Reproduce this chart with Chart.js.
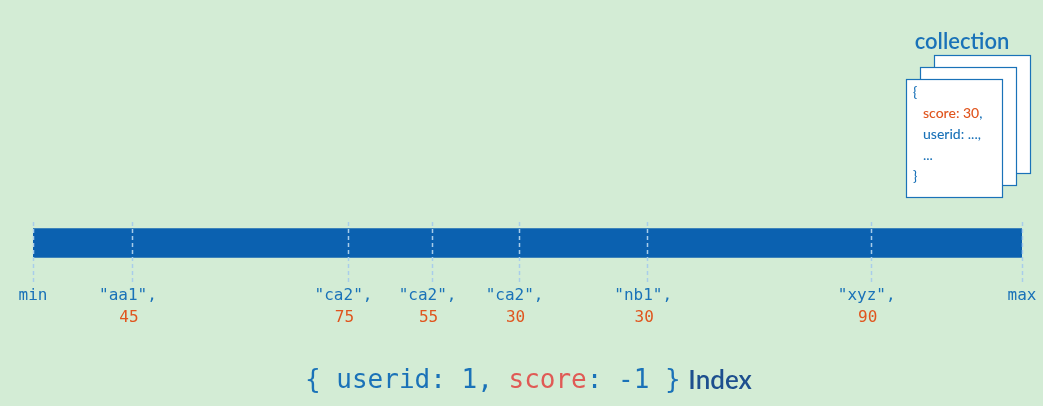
<!DOCTYPE html>
<html>
<head>
<meta charset="utf-8">
<script src="https://cdn.jsdelivr.net/npm/chart.js@4"></script>
<style>
  html, body { margin: 0; padding: 0; background: #d3ecd5; }
  #wrap { width: 1043px; height: 406px; position: relative; }
</style>
</head>
<body>
<div id="wrap"><canvas id="c"></canvas></div>
<script>
// index entries along the key range (0 = min, 1 = max)
const keyNames = ['min', '"aa1",', '"ca2",', '"ca2",', '"ca2",', '"nb1",', '"xyz",', 'max'];
const keyScores = ['', '45', '75', '55', '30', '30', '90', ''];
const keyPositions = [0, 0.100, 0.318, 0.403, 0.491, 0.621, 0.847, 1];
const docLines = ['{', 'score: 30,', 'userid: ...,', '...', '}'];

const BLUE = '#0b61b0';
const TEXT_BLUE = '#1a72b8';
const ORANGE = '#e0551e';

// Draws the dashed key markers, their labels, the caption and the collection box
const diagramPlugin = {
  id: 'indexDiagram',
  afterDatasetsDraw(chart) {
    const { ctx } = chart;
    const x = chart.scales.x;
    const y = chart.scales.y;
    const cy = y.getPixelForValue(0);
    ctx.save();

    // dashed markers
    ctx.strokeStyle = '#a9cdea';
    ctx.lineWidth = 1.5;
    ctx.setLineDash([4, 3]);
    keyPositions.forEach(p => {
      const px = Math.round(x.getPixelForValue(p)) + 0.5;
      ctx.beginPath();
      ctx.moveTo(px, cy - 21);
      ctx.lineTo(px, cy + 42);
      ctx.stroke();
    });
    ctx.setLineDash([]);

    // key labels
    ctx.textAlign = 'center';
    ctx.textBaseline = 'middle';
    keyPositions.forEach((p, i) => {
      const px = x.getPixelForValue(p);
      const shift = (i === 0 || i === keyPositions.length - 1) ? 0 : -4;
      ctx.font = '16px "DejaVu Sans Mono"';
      ctx.fillStyle = TEXT_BLUE;
      ctx.fillText(keyNames[i], px + shift, cy + 53);
      ctx.fillStyle = ORANGE;
      ctx.fillText(keyScores[i], px - 3, cy + 75);
    });

    // caption
    ctx.textAlign = 'left';
    ctx.font = '26px "DejaVu Sans Mono"';
    const parts = [['{ ', TEXT_BLUE], ['userid', TEXT_BLUE], [': 1, ', TEXT_BLUE], ['score', '#e05a55'], [': -1 } ', TEXT_BLUE]];
    let tx = 305;
    parts.forEach(([t, c]) => {
      ctx.fillStyle = c;
      ctx.fillText(t, tx, 381);
      tx += ctx.measureText(t).width;
    });
    ctx.font = '600 26px Lato';
    ctx.fillStyle = '#1d4f8e';
    ctx.fillText('Index', tx - 8, 381);

    // collection stack
    ctx.strokeStyle = TEXT_BLUE;
    ctx.lineWidth = 1.2;
    [[934, 55], [920, 67], [906, 79]].forEach(([bx, by]) => {
      ctx.fillStyle = '#ffffff';
      ctx.fillRect(bx, by, 96, 118);
      ctx.strokeRect(bx + 0.5, by + 0.5, 96, 118);
    });
    ctx.font = '600 22px Lato';
    ctx.fillStyle = TEXT_BLUE;
    ctx.textAlign = 'center';
    ctx.fillText('collection', 962, 42);

    ctx.textAlign = 'left';
    ctx.font = '500 14px Lato';
    const lx = [913, 923, 923, 923, 913];
    docLines.forEach((line, i) => {
      const ly = 92 + i * 21;
      if (line.startsWith('score')) {
        ctx.fillStyle = ORANGE;
        ctx.fillText('score: 30', lx[i], ly);
        const w = ctx.measureText('score: 30').width;
        ctx.fillStyle = TEXT_BLUE;
        ctx.fillText(',', lx[i] + w, ly);
      } else {
        ctx.fillStyle = TEXT_BLUE;
        ctx.fillText(line, lx[i], ly);
      }
    });
    ctx.restore();
  }
};

new Chart(document.getElementById('c'), {
  type: 'bar',
  data: {
    labels: ['keys'],
    datasets: [{
      data: [[keyPositions[0], keyPositions[keyPositions.length - 1]]],
      backgroundColor: BLUE,
      barThickness: 29,
      borderSkipped: false
    }]
  },
  options: {
    indexAxis: 'y',
    responsive: true,
    maintainAspectRatio: false,
    animation: false,
    layout: { padding: { left: 33, right: 21, top: 200, bottom: 120 } },
    scales: {
      x: { type: 'linear', min: 0, max: 1, display: false },
      y: { display: false }
    },
    plugins: { legend: { display: false }, tooltip: { enabled: false } }
  },
  plugins: [diagramPlugin]
});
</script>
</body>
</html>
